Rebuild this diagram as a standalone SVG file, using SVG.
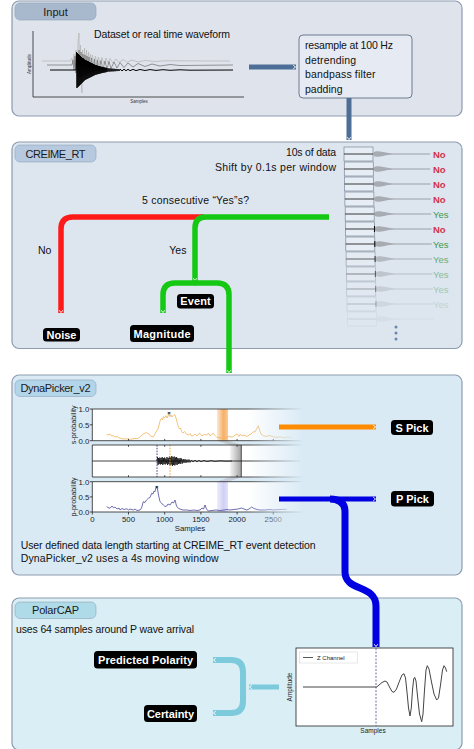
<svg xmlns="http://www.w3.org/2000/svg" xmlns:xlink="http://www.w3.org/1999/xlink" width="474" height="749" viewBox="0 0 474 749">
<defs>
<style>
text{font-family:"Liberation Sans",Arial,sans-serif;fill:#111}
.panel{stroke:#8d9bb0;stroke-width:1.2}
.tab{stroke:#8ea2bb;stroke-width:0.6}
.tabt{font-size:11px;text-anchor:middle;fill:#1a1a1a}
.body{font-size:10.5px}
.lbl{fill:#000}
.lblt{font-size:11px;font-weight:bold;fill:#fff;text-anchor:middle}
.tick{font-size:7.8px;fill:#222}
.ax{stroke:#222;stroke-width:0.8;fill:none}
.tiny{font-size:4.5px;fill:#333}
.bar{fill:none;stroke-linecap:butt}
.no{font-size:9.5px;font-weight:bold;fill:#d2324a}
.yes{font-size:9.5px;fill:#3c9a4c}
</style>
<marker id="ah" markerUnits="userSpaceOnUse" markerWidth="6" markerHeight="6" viewBox="0 0 6 6" refX="5" refY="3" orient="auto">
<path d="M2.2,1.2 L4.6,3 L2.2,4.8" fill="none" stroke="#fff" stroke-width="0.9"/>
</marker>
<linearGradient id="fade" x1="0" x2="1" y1="0" y2="0">
<stop offset="0" stop-color="#d9eaf5" stop-opacity="0"/>
<stop offset="1" stop-color="#d9eaf5" stop-opacity="1"/>
</linearGradient>
<linearGradient id="orb" x1="0" x2="1" y1="0" y2="0">
<stop offset="0" stop-color="#f5a24a" stop-opacity="0.25"/>
<stop offset="0.6" stop-color="#f5a24a" stop-opacity="0.85"/>
<stop offset="1" stop-color="#f5a24a" stop-opacity="0.55"/>
</linearGradient>
<linearGradient id="grb" x1="0" x2="1" y1="0" y2="0">
<stop offset="0" stop-color="#909090" stop-opacity="0.1"/>
<stop offset="0.8" stop-color="#8a8a8a" stop-opacity="0.7"/>
<stop offset="1" stop-color="#555" stop-opacity="0.95"/>
</linearGradient>
<linearGradient id="lvb" x1="0" x2="1" y1="0" y2="0">
<stop offset="0" stop-color="#c4c4f2" stop-opacity="0.3"/>
<stop offset="0.6" stop-color="#c4c4f2" stop-opacity="0.8"/>
<stop offset="1" stop-color="#c4c4f2" stop-opacity="0.5"/>
</linearGradient>
<g id="row">
<rect x="0" y="-7" width="29" height="14" fill="#eef1f6" fill-opacity="0.6" stroke="#7c8898" stroke-width="0.7"/>
<line x1="29" y1="0" x2="86" y2="0" stroke="#8a9098" stroke-width="0.8"/>
<path d="M29,0 C29.5,-3.2 33,-3 36,-2.4 C40,-1.8 44,-1 49,0 C44,1 40,1.8 36,2.4 C33,3 29.5,3.2 29,0 Z" fill="#a8acb2"/>
<line x1="0" y1="0" x2="29" y2="0" stroke="#222" stroke-width="0.9"/>
</g>
</defs>

<!-- ============ INPUT ============ -->
<g id="input-panel">
<rect class="panel" x="12" y="1" width="450" height="115" rx="7" fill="#dfe4ec"/>
<rect class="tab" x="15" y="3" width="81" height="17" rx="5" fill="#a9b9cd"/>
<text class="tabt" x="55.5" y="15.5" font-size="11.5">Input</text>
</g>
<g id="input-waveform">
<path d="M42,61 H70 L72,58 L73,64 L74,54 L75,67 L76,50 L77,70 L78,42 L79,33 L79.5,72 L80.5,45 L81,80 L82,93 L82.5,50 L83.5,74 L84.5,48 L85.5,72 L86.5,50 L87.5,70 L88.5,52 L89.5,69 L90.5,54 L91.5,67 L92.5,55 L94,66 L95.5,56 L97,65 L98.5,57 L100,64.5 L102,57.5 L104,64 L106,58 L108,63.5 L110,58.5 L113,63 L116,59 L119,62.5 L123,59.5 L127,62.3 L132,60 L138,62 L145,60.5 L155,61.5 L165,60.8 L230,61" fill="none" stroke="#b8b8b8" stroke-width="0.8"/>
<path d="M47,65 H72 L73,60 L74,70 L75,56 L76,73 L77,53 L78,76 L79,50 L80,78 L81,52 L82,77 L83,54 L84,76 L85,55 L86,75 L87,56 L88,74 L89,57 L90,73 L91.5,58 L93,72 L94.5,59 L96,71 L97.5,60 L99,70 L101,60.5 L103,69.5 L105,61 L107,69 L109,61.5 L111,68.5 L114,62 L117,68 L120,62.5 L124,67.5 L128,63 L133,67 L138,63.5 L145,66.5 L152,64 L160,66 L170,64.5 L180,65.5 L233,65" fill="none" stroke="#7a7a7a" stroke-width="0.8"/>
<path d="M50,70 H76 L76.5,52 L77,88 L77.5,53 L78,87 L78.5,54 L79,86 L79.5,55 L80,85 L80.5,56 L81,84 L81.5,57 L82,83 L82.5,58 L83,82 L83.5,58.5 L84,81 L84.5,59.5 L85,80 L85.5,60 L86,79.5 L86.5,60.5 L87,79 L87.5,61 L88,78.5 L88.5,61.5 L89,78 L89.5,62 L90,77.5 L90.5,62.5 L91,77 L91.5,63 L92,76.5 L92.5,63.5 L93,76 L93.5,64 L94,75.5 L94.5,64.5 L95,75 L95.5,65 L96,74.5 L96.5,65.3 L97,74.5 L97.5,65.6 L98,74 L98.5,66 L99,74 L99.5,66.3 L100,73.5 L100.5,66.5 L101,73.3 L101.5,66.8 L102,73 L102.5,67 L103,72.8 L103.5,67.3 L104,72.6 L104.5,67.5 L105,72.4 L105.5,67.7 L106,72.2 L106.5,67.9 L107,72 L108,68.1 L109,71.8 L110,68.3 L111,71.6 L112,68.5 L113,71.5 L114,68.7 L115,71.3 L116,68.9 L117,71.1 L118,69 L119,71 L120,69.1 L122,70.9 L124,69.2 L126,70.8 L128,69.3 L130,70.7 L133,69.4 L136,70.6 L140,69.5 L145,70.5 L150,69.6 L156,70.4 L163,69.7 L170,70.3 L180,69.8 L190,70.2 L233,70" fill="none" stroke="#000" stroke-width="1"/>
<path class="ax" d="M33,31 V97 H244"/>
<text class="tiny" x="0" y="0" transform="translate(30.5,64) rotate(-90)" text-anchor="middle">Amplitude</text>
<text class="tiny" x="139" y="102.5" text-anchor="middle">Samples</text>
<text class="body" x="94" y="37.5" textLength="136">Dataset or real time waveform</text>
</g>
<g id="preproc">
<rect x="299" y="35" width="113" height="63" rx="4" fill="#e6ebf3" stroke="#6c7b90" stroke-width="1"/>
<text class="body" x="305" y="49" font-size="10.2" textLength="88">resample at 100 Hz</text>
<text class="body" x="305" y="63.5" font-size="10.2" textLength="51">detrending</text>
<text class="body" x="305" y="78" font-size="10.2" textLength="70.5">bandpass filter</text>
<text class="body" x="305" y="92.5" font-size="10.2" textLength="37.5">padding</text>
</g>

<!-- ============ CREIME_RT ============ -->
<g id="creime-panel">
<rect class="panel" x="12" y="142" width="450" height="206.5" rx="7" fill="#dde5ef"/>
<rect class="tab" x="15" y="145" width="81" height="17" rx="5" fill="#b6c9de"/>
<text class="tabt" x="55.5" y="157.5" textLength="60">CREIME_RT</text>
<text class="body" x="336" y="155.7" text-anchor="end" textLength="50">10s of data</text>
<text class="body" x="336" y="170.7" text-anchor="end" textLength="121">Shift by 0.1s per window</text>
<text class="body" x="195.5" y="204.3" text-anchor="middle" textLength="107">5 consecutive “Yes”s?</text>
<text class="body" x="38" y="254">No</text>
<text class="body" x="169.3" y="254">Yes</text>
</g>
<g id="windows">
<use xlink:href="#row" x="344" y="154"/>
<use xlink:href="#row" x="344.3" y="169"/>
<use xlink:href="#row" x="344.6" y="184"/>
<use xlink:href="#row" x="344.9" y="199"/>
<use xlink:href="#row" x="345.2" y="214"/>
<use xlink:href="#row" x="345.5" y="229"/>
<use xlink:href="#row" x="345.8" y="244"/>
<use xlink:href="#row" x="346.1" y="259" opacity="0.75"/>
<use xlink:href="#row" x="346.4" y="274" opacity="0.55"/>
<use xlink:href="#row" x="346.7" y="289" opacity="0.4"/>
<use xlink:href="#row" x="347" y="304" opacity="0.26"/>
<use xlink:href="#row" x="347.3" y="319" opacity="0.12"/>
<g stroke="#111" stroke-width="1.1">
<line x1="374.5" y1="226" x2="374.5" y2="232"/>
<line x1="374.8" y1="241" x2="374.8" y2="247"/>
<line x1="375.1" y1="256" x2="375.1" y2="262" opacity="0.75"/>
<line x1="375.4" y1="271" x2="375.4" y2="277" opacity="0.55"/>
<line x1="375.7" y1="286" x2="375.7" y2="292" opacity="0.4"/>
<line x1="376" y1="301" x2="376" y2="307" opacity="0.26"/>
</g>
<text class="no" x="433" y="157.5">No</text>
<text class="no" x="433" y="172.5">No</text>
<text class="no" x="433" y="187.5">No</text>
<text class="no" x="433" y="202.5">No</text>
<text class="yes" x="433" y="217.5">Yes</text>
<text class="no" x="433" y="232.5">No</text>
<text class="yes" x="433" y="247.5">Yes</text>
<text class="yes" x="433" y="262.5" opacity="0.75">Yes</text>
<text class="yes" x="433" y="277.5" opacity="0.55">Yes</text>
<text class="yes" x="433" y="292.5" opacity="0.38">Yes</text>
<text class="yes" x="433" y="307.5" opacity="0.2">Yes</text>
<g fill="#6a88b0">
<circle cx="396" cy="327" r="1.5"/>
<circle cx="396" cy="333" r="1.5"/>
<circle cx="396" cy="339" r="1.5"/>
</g>
</g>
<g id="noise">
<rect class="lbl" x="43" y="328" width="37" height="13.5" rx="3.5"/>
<text class="lblt" x="61.5" y="338.6" font-size="10.4">Noise</text>
</g>
<g id="magnitude">
<rect class="lbl" x="130" y="325" width="64" height="17" rx="3.5"/>
<text class="lblt" x="162" y="337.6" textLength="57">Magnitude</text>
</g>
<g id="event">
<rect class="lbl" x="177" y="294" width="37" height="14.5" rx="3.5"/>
<text class="lblt" x="195.5" y="305.2" textLength="30.5">Event</text>
</g>

<!-- ============ DynaPicker ============ -->
<g id="dyna-panel">
<rect class="panel" x="12" y="375" width="450" height="200" rx="7" fill="#d9eaf5"/>
<rect class="tab" x="15" y="380" width="81" height="16.5" rx="5" fill="#b3d5ea"/>
<text class="tabt" x="55.5" y="392" textLength="70">DynaPicker_v2</text>
<text class="body" x="20.7" y="549" textLength="295">User defined data length starting at CREIME_RT event detection</text>
<text class="body" x="20.7" y="562" textLength="198">DynaPicker_v2 uses a 4s moving window</text>
</g>
<g id="dyna-plot">
<rect x="92.3" y="409" width="210" height="31.7" fill="#fff"/>
<rect x="92.3" y="445" width="210" height="32" fill="#fff"/>
<rect x="92.3" y="481.7" width="210" height="30.3" fill="#fff"/>
<rect x="217" y="409" width="11" height="31.7" fill="url(#orb)"/>
<rect x="230" y="445" width="12" height="32" fill="url(#grb)"/>
<rect x="217" y="481.7" width="11" height="30.3" fill="url(#lvb)"/>
<polygon points="217,440.7 228,440.7 242,445 230,445" fill="#b8b8b8" opacity="0.6"/>
<polygon points="230,477 242,477 228,481.7 217,481.7" fill="#b8b8c8" opacity="0.6"/>
<path d="M106.7,434.3 L108,435 L110,434 L111.5,436 L113.3,435.7 L115,437 L117,436.5 L120,438.3 L123,439 L126,438.8 L130,439.3 L134,438.7 L138.3,438.3 L141,436 L144,433.5 L146.7,432.7 L149,434 L151,436.5 L153.3,436.7 L155,434 L156.5,431 L158.3,428.3 L159.5,423 L160.5,419.5 L161.7,418.3 L162.5,420 L163.5,416.5 L164.5,418 L166,415.7 L167,418 L168,416 L169,414 L170,416.7 L171,415 L172,417 L173,415.5 L174,414.5 L175,415 L176,418 L177,422 L178.3,426.7 L179.5,429 L180.5,428 L181.7,431.7 L183,433 L184.5,431.5 L186.7,434.3 L188.5,435 L190,433.5 L191.5,436 L193.3,435.7 L195,434 L197,436 L199,433.5 L200,433.3 L202,436 L204,434.5 L206.7,435 L208.5,433 L210,436 L211.5,434.5 L213.3,433.3 L215,435.5 L217,437.5 L220,437.7 L222,438.5 L224,437.5 L226.7,438.3 L228,436 L230,437 L233.3,436.7 L235,435 L237,434 L239,436.5 L240,434.3 L242,436 L244,435 L246.7,436.7 L249,435 L251,434 L253.3,431.7 L255,432 L256.5,429 L258.3,425.7 L259.5,430 L261,434 L263.3,435.7 L266,436.5 L269,435.5 L273.3,436.7 L277,437.5 L280,436.8 L283.3,437.7 L288,437 L292,438" fill="none" stroke="#f0b25a" stroke-width="0.8"/>
<path d="M106.7,506.7 L108,507.5 L110,508.3 L112,506 L113.5,507.8 L115,507 L117,509 L119,508 L120,510 L122,508.5 L124,509.5 L126.7,508.8 L128.5,510 L130,509 L133.3,510 L135,509 L137,510.5 L140,510 L141.5,508 L143.3,501.7 L145,502.5 L146.5,500 L148.3,498.3 L150,497.5 L151.7,493.3 L153,494 L154,491 L155,491.7 L156,488 L156.7,486.7 L157.5,489 L158.5,495 L160,501.7 L161.5,503 L163.3,505 L165,506.5 L166.7,506 L168,504 L170,505 L172,502 L173.5,503 L175,500 L176.5,506 L178.3,508.3 L180,509 L183,510 L186.7,510 L190,510.5 L194,510 L197,510.5 L200,510 L202,508 L203.5,509 L205,505 L206.5,509 L208.3,511 L212,510.5 L216,510 L220,510.5 L224,510 L226.7,509.5 L230,510 L234,509.5 L238,509 L241.7,508 L244,509 L246.7,510 L249,509 L251.7,507 L254,508.5 L257,509.5 L260,510 L265,510 L270,509.5 L273.3,510 L280,509.5 L286.7,509.3" fill="none" stroke="#4a4aa0" stroke-width="0.8"/>
<line x1="92.3" y1="461" x2="300" y2="461" stroke="#111" stroke-width="0.8"/>
<path d="M157,461 L157.5,457 L158,465 L158.6,458 L159.2,464 L159.8,457.5 L160.4,464.5 L161,458 L161.6,464 L162.2,457 L162.8,465 L163.4,458 L164,464 L164.6,457.5 L165.2,464.5 L165.8,458.5 L166.4,463.5 L167,457 L167.6,465 L168.2,458 L168.8,464 L169.4,456.5 L170,465.5 L170.6,457.5 L171.2,464.5 L171.8,456 L172.4,466 L173,457 L173.6,465 L174.2,456.5 L174.8,465.5 L175.4,457.5 L176,464.5 L176.6,457 L177.2,465 L177.8,458 L178.4,464 L179,458.5 L179.6,463.5 L180.2,458 L180.8,464 L181.6,458.5 L182.4,463.5 L183.2,459 L184,463 L185,459 L186,463 L187,459.5 L188,462.5 L189,459.5 L190,462.5 L191.5,460 L193,462 L195,460 L197,462 L199,460.2 L201,461.8 L204,460.4 L207,461.6 L211,460.6 L215,461.4 L220,460.8 L226,461.2 L232,461" fill="none" stroke="#000" stroke-width="0.7"/>
<line x1="157" y1="445" x2="157" y2="477" stroke="#303080" stroke-width="0.9" stroke-dasharray="1.6,1.2"/>
<line x1="170" y1="445" x2="170" y2="477" stroke="#f0a030" stroke-width="0.9" stroke-dasharray="1.6,1.2"/>
<g fill="#000">
<text x="169" y="415.2" text-anchor="middle" font-weight="bold" style="font-size:6px;fill:#000">×</text>
<text x="156.7" y="488.8" text-anchor="middle" font-weight="bold" style="font-size:6px;fill:#000">×</text>
</g>
<g class="ax">
<path d="M302,409 H92.3 V440.7 H302"/>
<path d="M302,445 H92.3 V477 H302"/>
<path d="M302,481.7 H92.3 V512 H302"/>
<path d="M92.3,409 h-2.5 M92.3,424.8 h-2.5 M92.3,440.7 h-2.5 M92.3,481.7 h-2.5 M92.3,496.9 h-2.5 M92.3,512 h-2.5"/>
<path d="M92.3,512 v2.5 M128.5,512 v2.5 M164.7,512 v2.5 M200.9,512 v2.5 M237.1,512 v2.5 M273.3,512 v2.5"/>
<path d="M128.5,440.7 v-1.8 M164.7,440.7 v-1.8 M200.9,440.7 v-1.8 M237.1,440.7 v-1.8 M273.3,440.7 v-1.8 M128.5,477 v-1.8 M164.7,477 v-1.8 M200.9,477 v-1.8 M237.1,477 v-1.8 M128.5,445 v1.8 M164.7,445 v1.8 M200.9,445 v1.8 M237.1,445 v1.8"/>
</g>
<g text-anchor="end">
<text class="tick" x="89.3" y="411.8">1.0</text>
<text class="tick" x="89.3" y="427.6">0.5</text>
<text class="tick" x="89.3" y="443.5">0.0</text>
<text class="tick" x="89.3" y="484.5">1.0</text>
<text class="tick" x="89.3" y="499.7">0.5</text>
<text class="tick" x="89.3" y="514.8">0.0</text>
</g>
<g text-anchor="middle">
<text class="tick" x="92.3" y="521.5">0</text>
<text class="tick" x="128.5" y="521.5">500</text>
<text class="tick" x="164.7" y="521.5">1000</text>
<text class="tick" x="200.9" y="521.5">1500</text>
<text class="tick" x="237.1" y="521.5">2000</text>
<text class="tick" x="273.3" y="521.5">2500</text>
<text class="tick" x="190" y="530.5">Samples</text>
<text class="tick" x="0" y="0" transform="translate(76,424.8) rotate(-90)" style="font-size:7.2px">s-probability</text>
<text class="tick" x="0" y="0" transform="translate(76,496.9) rotate(-90)" style="font-size:7.2px">p-probability</text>
</g>
<rect x="248" y="404" width="56" height="122" fill="url(#fade)"/>
</g>
<g id="s-pick">
<rect class="lbl" x="391" y="420" width="42" height="15" rx="3.5"/>
<text class="lblt" x="412" y="431.6" font-size="11.5">S Pick</text>
</g>
<g id="p-pick">
<rect class="lbl" x="391" y="491" width="43" height="15.5" rx="3.5"/>
<text class="lblt" x="412.5" y="502.8" font-size="11.5">P Pick</text>
</g>

<!-- ============ PolarCAP ============ -->
<g id="polar-panel">
<rect class="panel" x="12" y="598" width="450" height="152" rx="7" fill="#d9eff5"/>
<rect class="tab" x="15" y="602" width="81" height="16.5" rx="5" fill="#aedbe7"/>
<text class="tabt" x="55.5" y="614" textLength="47">PolarCAP</text>
<text class="body" x="16" y="632.7" textLength="178">uses 64 samples around P wave arrival</text>
</g>
<g id="polar-plot">
<rect x="296" y="648" width="157" height="78" fill="#fff" stroke="#222" stroke-width="0.8"/>
<rect x="299.5" y="652" width="58" height="11" fill="#fff" stroke="#d0d0d0" stroke-width="0.5"/>
<line x1="303" y1="657.5" x2="313" y2="657.5" stroke="#444" stroke-width="0.9"/>
<text x="317" y="660" style="font-size:6px;fill:#222">Z Channel</text>
<line x1="376" y1="648" x2="376" y2="726" stroke="#5a5aa0" stroke-width="0.9" stroke-dasharray="2,1.5"/>
<path d="M303,687 H376.7 L379,685 L382,682.5 L385,681 L387,682 L389.5,687 L392,691.5 L394,692.3 L396.5,689 L399.5,681 L402,675 L404,673.7 L405.5,678 L407,692 L408.5,708 L410,716 L411.3,708 L412.5,690 L413.7,679 L414.7,677.3 L416,681 L417.5,696 L419.5,714 L421.7,721.7 L423,714 L424.5,690 L426,670 L427.3,665.7 L429,669 L431.5,682 L434,694 L436.7,700 L438.5,698 L440.5,685 L442.5,670 L444,665.7 L445.5,668 L446.7,671.7" fill="none" stroke="#444" stroke-width="1" stroke-linejoin="round"/>
<text x="0" y="0" transform="translate(291.5,687) rotate(-90)" text-anchor="middle" style="font-size:6.5px;fill:#222">Amplitude</text>
<text x="373" y="733" text-anchor="middle" style="font-size:6.5px;fill:#222">Samples</text>
</g>
<g id="predicted-polarity">
<rect class="lbl" x="94" y="651" width="103" height="17.5" rx="3.5"/>
<text class="lblt" x="145.5" y="664" textLength="95">Predicted Polarity</text>
</g>
<g id="certainty">
<rect class="lbl" x="144" y="705" width="53" height="17" rx="3.5"/>
<text class="lblt" x="170.5" y="717.6" textLength="47">Certainty</text>
</g>

<!-- ============ CONNECTORS ============ -->
<g id="connectors" class="bar">
<path d="M249,67 H296" stroke="#4d6e96" stroke-width="5" marker-end="url(#ah)"/>
<path d="M349,98 V140" stroke="#4d6e96" stroke-width="5" marker-end="url(#ah)"/>
<path d="M204,217 H73 Q61,217 61,229 V313" stroke="#ff1a1a" stroke-width="5.5" marker-end="url(#ah)"/>
<path d="M329,217 H206 Q195,217 195,228 V281" stroke="#14c814" stroke-width="5.5" marker-end="url(#ah)"/>
<path d="M196,283 H175 Q163,283 163,295 V313" stroke="#14c814" stroke-width="5.5" marker-end="url(#ah)"/>
<path d="M195,283 H217 Q229,283 229,295 V373" stroke="#14c814" stroke-width="5.5" marker-end="url(#ah)"/>
<path d="M279,427 H376" stroke="#ff8c00" stroke-width="5" marker-end="url(#ah)"/>
<path d="M330,499 Q345,499 345,512 V572 C345,592 376,584 376,606 V647" stroke="#0000e0" stroke-width="7" marker-end="url(#ah)"/>
<path d="M279,499 H376" stroke="#0000e0" stroke-width="5" marker-end="url(#ah)"/>
<path d="M279,687 H249" stroke="#7ccadb" stroke-width="5" marker-end="url(#ah)"/>
<path d="M243,687 V672 Q243,660 231,660 H213" stroke="#7ccadb" stroke-width="6" marker-end="url(#ah)"/>
<path d="M243,687 V701 Q243,713 231,713 H213" stroke="#7ccadb" stroke-width="6" marker-end="url(#ah)"/>
</g>
</svg>
